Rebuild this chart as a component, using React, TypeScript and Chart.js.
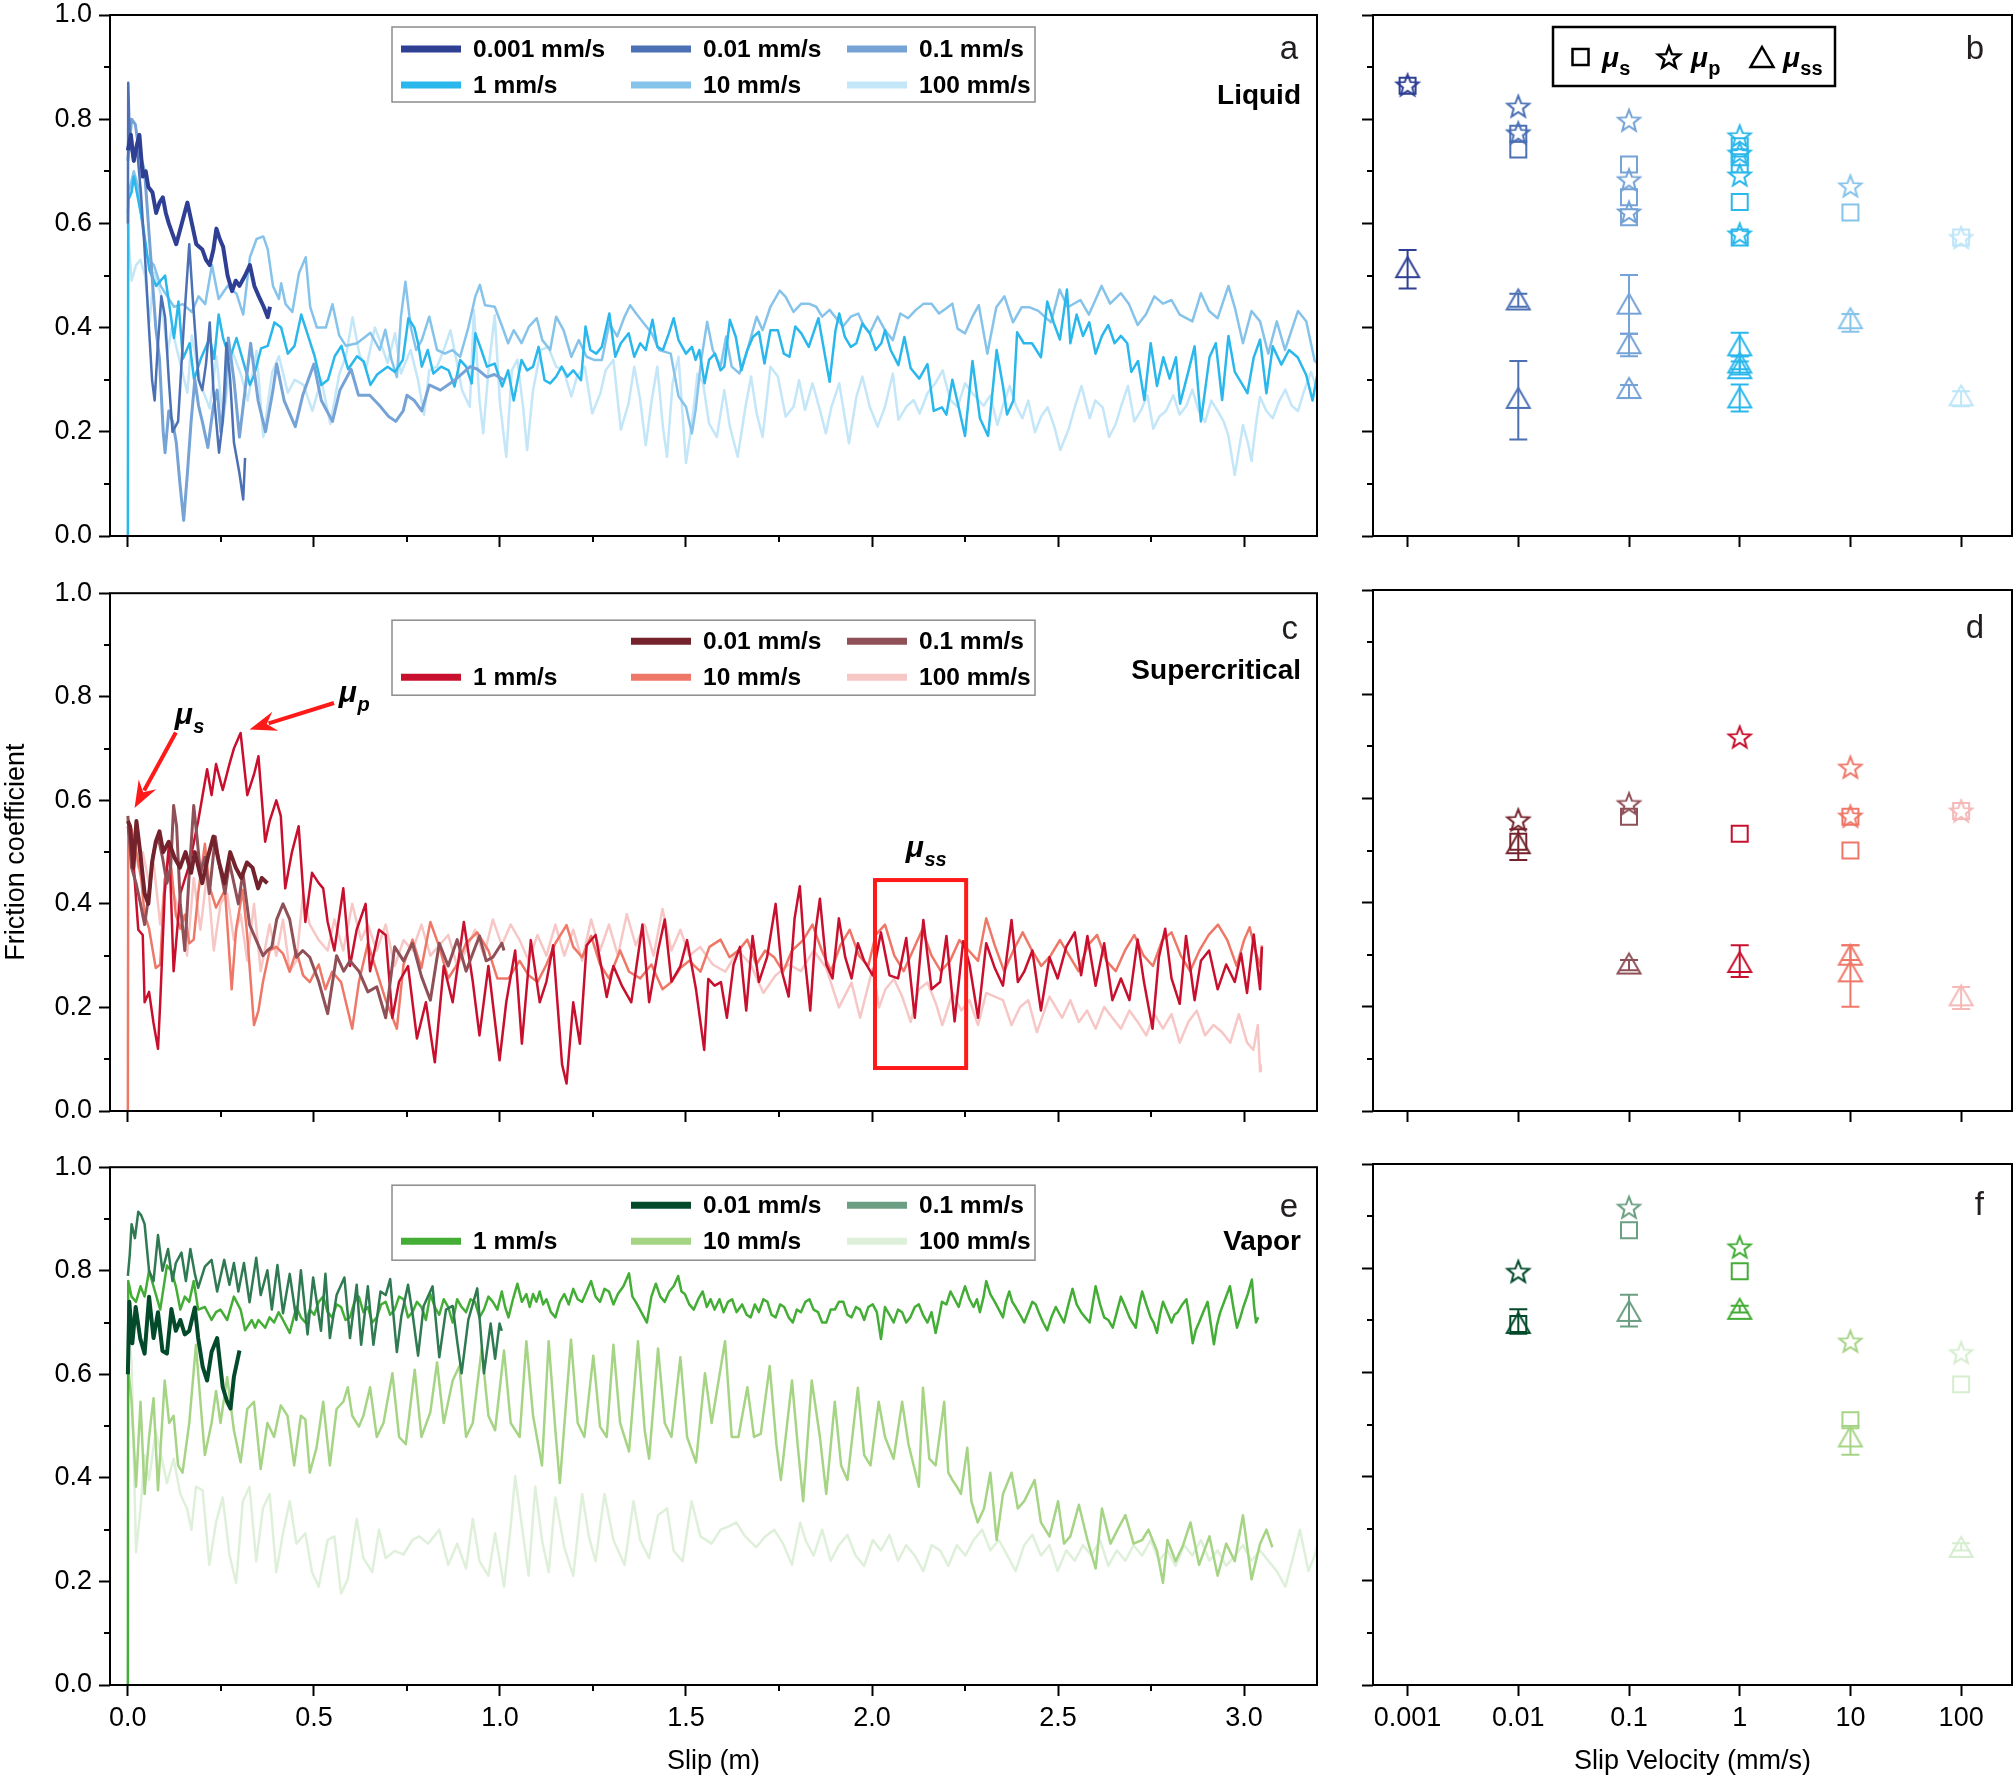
import { useEffect, useRef } from "react"
import { Chart, registerables } from "chart.js"

Chart.register(...registerables)

const FONT = "'Liberation Sans', Arial, Helvetica, sans-serif"
Chart.defaults.font.family = FONT
Chart.defaults.color = "#000"

type Pt = [number, number]

// ---- axes ----
const VELOCITIES = [0.001, 0.01, 0.1, 1, 10, 100]
const VELOCITY_LABELS = ["0.001", "0.01", "0.1", "1", "10", "100"]
const SLIP_TICKS = [0, 0.5, 1, 1.5, 2, 2.5, 3]
const SLIP_MINOR = [0.25, 0.75, 1.25, 1.75, 2.25, 2.75]
const MU_TICKS = [0, 0.2, 0.4, 0.6, 0.8, 1]
const MU_MINOR = [0.1, 0.3, 0.5, 0.7, 0.9]

// ---- panel a: liquid, friction vs slip [slip (m), mu] ----
const liquidV0001: Pt[] = [[0,0.74],[0.008,0.77],[0.016,0.72],[0.024,0.75],[0.031,0.77],[0.04,0.69],[0.048,0.7],[0.055,0.67],[0.066,0.66],[0.076,0.62],[0.085,0.64],[0.094,0.65],[0.102,0.62],[0.11,0.6],[0.12,0.58],[0.13,0.56],[0.145,0.6],[0.16,0.64],[0.172,0.6],[0.184,0.56],[0.2,0.55],[0.21,0.53],[0.22,0.52],[0.23,0.55],[0.238,0.59],[0.247,0.57],[0.256,0.555],[0.268,0.5],[0.28,0.47],[0.29,0.49],[0.3,0.48],[0.315,0.5],[0.328,0.52],[0.34,0.48],[0.352,0.46],[0.365,0.44],[0.376,0.42],[0.382,0.44]]
const liquidV001: Pt[] = [[0,0.6],[0.001,0.87],[0.005,0.76],[0.015,0.72],[0.025,0.74],[0.035,0.66],[0.045,0.55],[0.055,0.42],[0.065,0.3],[0.072,0.26],[0.08,0.36],[0.09,0.46],[0.1,0.42],[0.11,0.3],[0.12,0.2],[0.135,0.22],[0.15,0.4],[0.165,0.56],[0.175,0.45],[0.19,0.3],[0.2,0.28],[0.21,0.33],[0.22,0.41],[0.23,0.28],[0.245,0.16],[0.255,0.22],[0.265,0.37],[0.275,0.3],[0.285,0.18],[0.3,0.12],[0.31,0.07],[0.315,0.15]]
const liquidV01: Pt[] = [[0,0.72],[0.01,0.8],[0.02,0.79],[0.03,0.74],[0.045,0.7],[0.06,0.55],[0.075,0.4],[0.085,0.34],[0.095,0.2],[0.1,0.16],[0.11,0.24],[0.12,0.22],[0.13,0.18],[0.14,0.1],[0.15,0.03],[0.16,0.12],[0.17,0.22],[0.18,0.3],[0.19,0.25],[0.2,0.22],[0.215,0.17],[0.23,0.25],[0.24,0.28],[0.25,0.2],[0.26,0.26],[0.27,0.38],[0.285,0.3],[0.3,0.19],[0.315,0.28],[0.33,0.37],[0.35,0.26],[0.37,0.2],[0.39,0.28],[0.4,0.33],[0.42,0.26],[0.45,0.21],[0.47,0.27],[0.5,0.33],[0.52,0.26],[0.55,0.22],[0.57,0.28],[0.6,0.32],[0.62,0.27],[0.65,0.27],[0.677,0.25],[0.7,0.23],[0.72,0.22],[0.74,0.24],[0.75,0.27],[0.77,0.26],[0.79,0.24],[0.81,0.29],[0.84,0.28],[0.86,0.29],[0.88,0.3],[0.92,0.325],[0.94,0.32],[0.965,0.305],[0.985,0.31],[1.01,0.3]]
const liquidV1: Pt[] = [[0,0],[0.001,0.645],[0.01,0.66],[0.016,0.69],[0.028,0.645],[0.04,0.6],[0.058,0.51],[0.076,0.48],[0.1,0.5],[0.112,0.44],[0.124,0.38],[0.136,0.45],[0.148,0.34],[0.166,0.37],[0.178,0.3],[0.196,0.34],[0.22,0.38],[0.232,0.34],[0.244,0.425],[0.256,0.38],[0.274,0.34],[0.292,0.38],[0.31,0.335],[0.328,0.29],[0.34,0.31],[0.358,0.36],[0.376,0.365],[0.394,0.41],[0.412,0.4],[0.43,0.35],[0.448,0.365],[0.466,0.425],[0.484,0.385],[0.502,0.345],[0.52,0.29],[0.538,0.3],[0.556,0.345],[0.574,0.365],[0.592,0.32],[0.616,0.345],[0.634,0.335],[0.652,0.29],[0.67,0.31],[0.698,0.325],[0.718,0.315],[0.739,0.338],[0.754,0.418],[0.77,0.4],[0.78,0.37],[0.79,0.325],[0.806,0.357],[0.821,0.312],[0.842,0.325],[0.862,0.318],[0.878,0.287],[0.893,0.338],[0.909,0.325],[0.924,0.293],[0.934,0.389],[0.95,0.357],[0.965,0.325],[0.986,0.331],[1.006,0.287],[1.022,0.318],[1.037,0.26],[1.058,0.338],[1.073,0.318],[1.089,0.325],[1.104,0.363],[1.12,0.299],[1.135,0.293],[1.151,0.306],[1.166,0.325],[1.181,0.306],[1.197,0.318],[1.218,0.299],[1.23,0.402],[1.243,0.357],[1.259,0.35],[1.274,0.363],[1.294,0.427],[1.31,0.344],[1.325,0.37],[1.346,0.389],[1.361,0.344],[1.377,0.37],[1.392,0.357],[1.41,0.415],[1.423,0.363],[1.438,0.357],[1.454,0.389],[1.467,0.418],[1.48,0.376],[1.5,0.35],[1.516,0.363],[1.526,0.338],[1.536,0.357],[1.55,0.293],[1.562,0.338],[1.578,0.35],[1.593,0.318],[1.603,0.325],[1.618,0.415],[1.634,0.382],[1.649,0.318],[1.665,0.357],[1.68,0.382],[1.696,0.392],[1.711,0.331],[1.727,0.395],[1.747,0.395],[1.763,0.35],[1.778,0.344],[1.794,0.402],[1.81,0.389],[1.83,0.363],[1.856,0.418],[1.871,0.357],[1.886,0.296],[1.902,0.395],[1.912,0.427],[1.927,0.382],[1.943,0.363],[1.958,0.37],[1.974,0.408],[1.994,0.389],[2.01,0.357],[2.025,0.37],[2.035,0.395],[2.05,0.357],[2.071,0.328],[2.087,0.382],[2.104,0.322],[2.127,0.302],[2.149,0.33],[2.166,0.24],[2.188,0.247],[2.2,0.233],[2.216,0.3],[2.233,0.247],[2.25,0.192],[2.27,0.336],[2.29,0.226],[2.312,0.192],[2.335,0.357],[2.352,0.288],[2.363,0.233],[2.38,0.26],[2.39,0.391],[2.408,0.37],[2.43,0.37],[2.454,0.343],[2.471,0.45],[2.488,0.41],[2.505,0.377],[2.524,0.473],[2.533,0.37],[2.55,0.425],[2.567,0.384],[2.584,0.41],[2.601,0.35],[2.618,0.384],[2.635,0.405],[2.652,0.37],[2.669,0.384],[2.686,0.37],[2.697,0.315],[2.715,0.336],[2.732,0.261],[2.749,0.37],[2.766,0.288],[2.783,0.343],[2.8,0.302],[2.817,0.343],[2.828,0.254],[2.85,0.315],[2.867,0.364],[2.884,0.22],[2.907,0.343],[2.924,0.37],[2.941,0.261],[2.958,0.384],[2.975,0.315],[2.992,0.295],[3.009,0.274],[3.026,0.343],[3.043,0.377],[3.06,0.274],[3.077,0.364],[3.1,0.329],[3.121,0.357],[3.144,0.343],[3.167,0.309],[3.184,0.26],[3.2,0.322]]
const liquidV10: Pt[] = [[0,0.62],[0.004,0.665],[0.016,0.7],[0.028,0.67],[0.04,0.59],[0.052,0.535],[0.07,0.52],[0.088,0.48],[0.106,0.46],[0.124,0.44],[0.148,0.445],[0.172,0.43],[0.19,0.46],[0.208,0.445],[0.226,0.52],[0.244,0.455],[0.268,0.48],[0.292,0.465],[0.31,0.425],[0.328,0.535],[0.346,0.57],[0.364,0.575],[0.376,0.55],[0.39,0.48],[0.406,0.455],[0.412,0.485],[0.424,0.445],[0.442,0.43],[0.46,0.505],[0.478,0.535],[0.49,0.44],[0.508,0.4],[0.532,0.4],[0.55,0.445],[0.568,0.385],[0.586,0.365],[0.616,0.37],[0.652,0.39],[0.677,0.357],[0.692,0.396],[0.708,0.34],[0.723,0.305],[0.734,0.421],[0.746,0.488],[0.76,0.402],[0.775,0.357],[0.79,0.376],[0.81,0.421],[0.831,0.357],[0.852,0.35],[0.872,0.357],[0.893,0.344],[0.915,0.4],[0.934,0.46],[0.946,0.482],[0.96,0.443],[0.986,0.44],[1.006,0.402],[1.022,0.37],[1.037,0.395],[1.058,0.37],[1.078,0.402],[1.099,0.418],[1.114,0.376],[1.135,0.357],[1.151,0.421],[1.171,0.395],[1.192,0.344],[1.212,0.376],[1.233,0.344],[1.253,0.338],[1.274,0.338],[1.294,0.408],[1.315,0.383],[1.335,0.421],[1.35,0.443],[1.366,0.427],[1.387,0.408],[1.408,0.389],[1.428,0.357],[1.459,0.35],[1.48,0.268],[1.5,0.248],[1.516,0.197],[1.526,0.242],[1.541,0.338],[1.557,0.411],[1.572,0.357],[1.593,0.325],[1.608,0.383],[1.623,0.325],[1.644,0.312],[1.665,0.357],[1.69,0.421],[1.706,0.395],[1.727,0.44],[1.752,0.471],[1.768,0.459],[1.789,0.43],[1.81,0.446],[1.83,0.446],[1.85,0.44],[1.866,0.421],[1.886,0.434],[1.907,0.415],[1.922,0.402],[1.943,0.421],[1.963,0.427],[1.979,0.402],[1.994,0.389],[2.015,0.421],[2.035,0.395],[2.056,0.376],[2.076,0.427],[2.097,0.418],[2.118,0.434],[2.139,0.446],[2.16,0.446],[2.18,0.427],[2.2,0.437],[2.216,0.446],[2.23,0.398],[2.25,0.389],[2.27,0.421],[2.287,0.443],[2.31,0.35],[2.334,0.439],[2.356,0.46],[2.379,0.41],[2.402,0.439],[2.424,0.439],[2.447,0.432],[2.481,0.41],[2.504,0.473],[2.526,0.439],[2.56,0.453],[2.583,0.425],[2.617,0.48],[2.64,0.446],[2.669,0.466],[2.69,0.446],[2.714,0.405],[2.736,0.425],[2.759,0.46],[2.782,0.446],[2.805,0.453],[2.827,0.425],[2.861,0.412],[2.884,0.466],[2.906,0.432],[2.929,0.418],[2.958,0.48],[2.975,0.439],[2.997,0.37],[3.02,0.432],[3.043,0.412],[3.065,0.35],[3.088,0.412],[3.11,0.357],[3.145,0.432],[3.167,0.412],[3.19,0.336],[3.2,0.33]]
const liquidV100: Pt[] = [[0,0.6],[0.004,0.55],[0.01,0.49],[0.022,0.52],[0.034,0.53],[0.046,0.5],[0.058,0.41],[0.07,0.505],[0.088,0.465],[0.106,0.35],[0.118,0.4],[0.136,0.345],[0.16,0.275],[0.172,0.385],[0.196,0.29],[0.22,0.245],[0.238,0.345],[0.256,0.22],[0.28,0.355],[0.304,0.31],[0.322,0.26],[0.346,0.355],[0.364,0.19],[0.388,0.315],[0.406,0.345],[0.43,0.275],[0.448,0.3],[0.472,0.29],[0.496,0.24],[0.52,0.3],[0.544,0.215],[0.568,0.31],[0.586,0.345],[0.604,0.42],[0.622,0.35],[0.64,0.32],[0.664,0.4],[0.677,0.376],[0.698,0.332],[0.718,0.389],[0.734,0.312],[0.76,0.357],[0.78,0.299],[0.796,0.232],[0.81,0.318],[0.831,0.325],[0.852,0.363],[0.867,0.395],[0.883,0.338],[0.898,0.28],[0.919,0.248],[0.93,0.434],[0.945,0.261],[0.955,0.197],[0.97,0.325],[0.986,0.424],[1.0,0.255],[1.017,0.152],[1.032,0.318],[1.047,0.338],[1.063,0.242],[1.073,0.165],[1.089,0.28],[1.11,0.357],[1.13,0.363],[1.151,0.325],[1.171,0.318],[1.192,0.268],[1.207,0.306],[1.228,0.325],[1.248,0.235],[1.27,0.274],[1.284,0.318],[1.305,0.338],[1.325,0.204],[1.346,0.255],[1.361,0.325],[1.377,0.261],[1.392,0.174],[1.408,0.261],[1.423,0.325],[1.438,0.21],[1.449,0.152],[1.464,0.293],[1.48,0.344],[1.5,0.14],[1.516,0.216],[1.531,0.312],[1.546,0.293],[1.562,0.216],[1.583,0.19],[1.603,0.28],[1.618,0.21],[1.639,0.152],[1.66,0.248],[1.675,0.306],[1.69,0.235],[1.706,0.19],[1.727,0.325],[1.747,0.306],[1.768,0.229],[1.789,0.248],[1.804,0.299],[1.82,0.242],[1.84,0.293],[1.86,0.242],[1.876,0.197],[1.891,0.248],[1.912,0.293],[1.938,0.178],[1.958,0.267],[1.974,0.306],[1.994,0.248],[2.015,0.21],[2.035,0.248],[2.056,0.312],[2.071,0.223],[2.092,0.248],[2.112,0.261],[2.128,0.235],[2.149,0.274],[2.17,0.293],[2.19,0.318],[2.21,0.261],[2.23,0.248],[2.25,0.293],[2.27,0.274],[2.3,0.25],[2.318,0.27],[2.337,0.213],[2.352,0.25],[2.37,0.288],[2.387,0.25],[2.404,0.226],[2.42,0.26],[2.438,0.199],[2.455,0.23],[2.472,0.247],[2.49,0.21],[2.506,0.165],[2.529,0.206],[2.546,0.25],[2.563,0.288],[2.585,0.226],[2.6,0.26],[2.62,0.247],[2.637,0.19],[2.654,0.213],[2.67,0.25],[2.688,0.288],[2.705,0.22],[2.722,0.24],[2.74,0.27],[2.756,0.206],[2.773,0.23],[2.79,0.24],[2.81,0.27],[2.827,0.233],[2.845,0.25],[2.861,0.281],[2.878,0.24],[2.895,0.219],[2.912,0.26],[2.929,0.24],[2.945,0.22],[2.958,0.192],[2.975,0.117],[2.997,0.213],[3.01,0.18],[3.02,0.144],[3.033,0.22],[3.043,0.267],[3.06,0.24],[3.077,0.226],[3.095,0.26],[3.111,0.281],[3.128,0.25],[3.145,0.24],[3.162,0.28],[3.18,0.315],[3.2,0.274]]

// ---- panel c: supercritical ----
const superV001: Pt[] = [[0,0.56],[0.006,0.55],[0.015,0.47],[0.023,0.56],[0.033,0.5],[0.045,0.42],[0.055,0.4],[0.065,0.48],[0.075,0.52],[0.085,0.54],[0.095,0.5],[0.11,0.52],[0.125,0.49],[0.14,0.47],[0.155,0.5],[0.17,0.46],[0.18,0.5],[0.2,0.44],[0.215,0.49],[0.23,0.53],[0.245,0.48],[0.26,0.44],[0.275,0.5],[0.29,0.47],[0.305,0.45],[0.32,0.48],[0.335,0.47],[0.35,0.43],[0.36,0.45],[0.375,0.44]]
const superV01: Pt[] = [[0,0.57],[0.01,0.47],[0.022,0.44],[0.034,0.4],[0.045,0.36],[0.057,0.42],[0.069,0.5],[0.081,0.53],[0.093,0.49],[0.105,0.44],[0.115,0.47],[0.123,0.59],[0.131,0.55],[0.141,0.4],[0.153,0.31],[0.165,0.46],[0.177,0.59],[0.187,0.52],[0.195,0.46],[0.207,0.49],[0.219,0.42],[0.235,0.53],[0.247,0.47],[0.261,0.42],[0.273,0.48],[0.285,0.44],[0.297,0.4],[0.309,0.46],[0.327,0.36],[0.345,0.33],[0.363,0.3],[0.375,0.31],[0.387,0.317],[0.4,0.37],[0.417,0.4],[0.435,0.37],[0.453,0.297],[0.47,0.31],[0.489,0.297],[0.513,0.25],[0.537,0.188],[0.561,0.3],[0.58,0.27],[0.597,0.29],[0.621,0.27],[0.645,0.23],[0.669,0.24],[0.693,0.18],[0.717,0.317],[0.741,0.29],[0.765,0.324],[0.789,0.26],[0.813,0.214],[0.837,0.324],[0.861,0.28],[0.885,0.331],[0.909,0.27],[0.93,0.31],[0.945,0.338],[0.963,0.29],[0.981,0.297],[1.005,0.324],[1.011,0.31]]
const superV1: Pt[] = [[0,0.55],[0.016,0.47],[0.028,0.35],[0.04,0.34],[0.045,0.21],[0.057,0.23],[0.069,0.17],[0.081,0.12],[0.087,0.21],[0.099,0.42],[0.111,0.52],[0.123,0.27],[0.129,0.32],[0.141,0.42],[0.165,0.475],[0.189,0.56],[0.213,0.66],[0.225,0.61],[0.237,0.67],[0.255,0.62],[0.273,0.67],[0.285,0.7],[0.303,0.73],[0.321,0.61],[0.339,0.65],[0.351,0.685],[0.369,0.52],[0.381,0.56],[0.399,0.6],[0.411,0.57],[0.423,0.43],[0.441,0.5],[0.459,0.55],[0.477,0.365],[0.495,0.46],[0.513,0.44],[0.525,0.43],[0.537,0.365],[0.555,0.31],[0.579,0.43],[0.597,0.28],[0.615,0.35],[0.639,0.4],[0.651,0.27],[0.675,0.35],[0.693,0.34],[0.711,0.18],[0.729,0.25],[0.753,0.28],[0.777,0.14],[0.801,0.21],[0.825,0.094],[0.849,0.28],[0.873,0.21],[0.903,0.365],[0.927,0.25],[0.945,0.146],[0.969,0.28],[0.999,0.098],[1.017,0.21],[1.041,0.31],[1.059,0.13],[1.083,0.33],[1.107,0.21],[1.125,0.25],[1.143,0.32],[1.167,0.09],[1.179,0.053],[1.197,0.21],[1.215,0.13],[1.233,0.32],[1.257,0.34],[1.287,0.22],[1.305,0.28],[1.329,0.24],[1.353,0.21],[1.383,0.36],[1.401,0.21],[1.425,0.31],[1.443,0.37],[1.461,0.25],[1.485,0.28],[1.503,0.33],[1.527,0.235],[1.549,0.118],[1.56,0.255],[1.577,0.242],[1.594,0.249],[1.61,0.18],[1.628,0.283],[1.645,0.317],[1.662,0.194],[1.679,0.338],[1.696,0.249],[1.718,0.297],[1.741,0.4],[1.758,0.269],[1.776,0.221],[1.792,0.372],[1.806,0.434],[1.821,0.283],[1.834,0.194],[1.849,0.352],[1.86,0.41],[1.877,0.283],[1.894,0.256],[1.911,0.372],[1.928,0.297],[1.945,0.256],[1.962,0.324],[1.979,0.29],[2.002,0.262],[2.024,0.345],[2.047,0.262],[2.07,0.256],[2.092,0.334],[2.115,0.18],[2.138,0.369],[2.16,0.235],[2.183,0.249],[2.2,0.338],[2.222,0.173],[2.245,0.328],[2.262,0.283],[2.285,0.18],[2.307,0.324],[2.33,0.276],[2.352,0.242],[2.375,0.369],[2.392,0.249],[2.409,0.269],[2.431,0.31],[2.454,0.194],[2.477,0.297],[2.499,0.256],[2.522,0.317],[2.545,0.345],[2.562,0.262],[2.579,0.338],[2.601,0.242],[2.624,0.324],[2.646,0.214],[2.669,0.256],[2.692,0.214],[2.714,0.331],[2.731,0.249],[2.754,0.159],[2.771,0.297],[2.788,0.352],[2.805,0.256],[2.827,0.207],[2.844,0.338],[2.867,0.214],[2.884,0.29],[2.906,0.31],[2.929,0.235],[2.952,0.283],[2.975,0.249],[2.992,0.304],[3.008,0.228],[3.026,0.341],[3.043,0.235],[3.048,0.317]]
const superV10: Pt[] = [[0,0],[0.001,0.56],[0.01,0.544],[0.022,0.503],[0.036,0.448],[0.045,0.379],[0.057,0.352],[0.075,0.276],[0.087,0.283],[0.099,0.448],[0.117,0.468],[0.129,0.379],[0.141,0.352],[0.153,0.379],[0.165,0.324],[0.177,0.331],[0.189,0.42],[0.207,0.516],[0.219,0.434],[0.237,0.393],[0.261,0.427],[0.279,0.235],[0.291,0.352],[0.309,0.427],[0.321,0.338],[0.339,0.166],[0.351,0.194],[0.363,0.249],[0.381,0.31],[0.399,0.317],[0.417,0.304],[0.435,0.269],[0.453,0.31],[0.471,0.262],[0.489,0.249],[0.513,0.283],[0.531,0.235],[0.549,0.269],[0.573,0.249],[0.603,0.159],[0.621,0.249],[0.645,0.324],[0.669,0.269],[0.693,0.214],[0.723,0.159],[0.741,0.283],[0.765,0.331],[0.789,0.276],[0.813,0.365],[0.837,0.317],[0.861,0.256],[0.885,0.283],[0.909,0.324],[0.939,0.345],[0.969,0.31],[0.993,0.256],[1.023,0.256],[1.053,0.29],[1.077,0.262],[1.101,0.249],[1.125,0.283],[1.149,0.324],[1.179,0.359],[1.197,0.317],[1.221,0.297],[1.245,0.338],[1.269,0.283],[1.293,0.256],[1.323,0.31],[1.347,0.269],[1.377,0.256],[1.407,0.283],[1.437,0.235],[1.461,0.249],[1.485,0.276],[1.509,0.29],[1.539,0.269],[1.563,0.317],[1.593,0.331],[1.617,0.297],[1.641,0.31],[1.665,0.331],[1.689,0.283],[1.713,0.31],[1.737,0.297],[1.761,0.269],[1.785,0.31],[1.815,0.33],[1.84,0.36],[1.865,0.31],[1.89,0.27],[1.915,0.32],[1.94,0.35],[1.965,0.3],[1.99,0.28],[2.01,0.34],[2.035,0.36],[2.06,0.3],[2.085,0.27],[2.11,0.31],[2.135,0.35],[2.16,0.3],[2.185,0.27],[2.21,0.29],[2.235,0.33],[2.26,0.31],[2.285,0.29],[2.307,0.372],[2.33,0.32],[2.355,0.27],[2.38,0.31],[2.405,0.345],[2.43,0.31],[2.455,0.28],[2.48,0.3],[2.505,0.33],[2.53,0.3],[2.555,0.27],[2.58,0.32],[2.605,0.34],[2.63,0.29],[2.655,0.27],[2.68,0.31],[2.705,0.34],[2.73,0.3],[2.755,0.28],[2.78,0.33],[2.805,0.345],[2.83,0.3],[2.855,0.27],[2.88,0.31],[2.905,0.34],[2.93,0.36],[2.955,0.33],[2.98,0.28],[3.0,0.33],[3.015,0.355],[3.03,0.31],[3.043,0.28],[3.048,0.32]]
const superV100: Pt[] = [[0,0.55],[0.016,0.53],[0.028,0.47],[0.04,0.5],[0.057,0.44],[0.069,0.48],[0.087,0.36],[0.105,0.47],[0.123,0.42],[0.141,0.38],[0.159,0.3],[0.177,0.45],[0.195,0.35],[0.213,0.46],[0.231,0.31],[0.249,0.4],[0.267,0.42],[0.285,0.33],[0.303,0.38],[0.321,0.29],[0.339,0.4],[0.357,0.27],[0.381,0.36],[0.399,0.3],[0.417,0.37],[0.435,0.27],[0.453,0.29],[0.471,0.42],[0.489,0.36],[0.513,0.33],[0.537,0.31],[0.555,0.37],[0.579,0.31],[0.603,0.4],[0.627,0.33],[0.645,0.36],[0.669,0.31],[0.693,0.36],[0.717,0.28],[0.741,0.33],[0.765,0.31],[0.789,0.36],[0.813,0.3],[0.837,0.32],[0.861,0.34],[0.885,0.28],[0.909,0.31],[0.933,0.35],[0.957,0.3],[0.981,0.37],[1.005,0.32],[1.029,0.36],[1.053,0.33],[1.077,0.29],[1.101,0.34],[1.125,0.3],[1.149,0.36],[1.173,0.3],[1.197,0.35],[1.221,0.29],[1.245,0.37],[1.269,0.31],[1.293,0.36],[1.317,0.3],[1.341,0.38],[1.365,0.32],[1.389,0.36],[1.413,0.3],[1.437,0.39],[1.461,0.31],[1.485,0.35],[1.509,0.3],[1.538,0.317],[1.572,0.283],[1.606,0.269],[1.64,0.31],[1.674,0.283],[1.708,0.228],[1.741,0.262],[1.776,0.283],[1.809,0.27],[1.843,0.31],[1.877,0.276],[1.911,0.2],[1.945,0.248],[1.968,0.18],[2.002,0.276],[2.019,0.2],[2.036,0.235],[2.059,0.255],[2.081,0.221],[2.104,0.172],[2.126,0.235],[2.149,0.248],[2.172,0.207],[2.189,0.166],[2.217,0.228],[2.24,0.194],[2.262,0.214],[2.285,0.166],[2.307,0.228],[2.33,0.221],[2.352,0.214],[2.375,0.166],[2.398,0.201],[2.42,0.214],[2.443,0.152],[2.477,0.221],[2.511,0.18],[2.533,0.214],[2.556,0.172],[2.578,0.194],[2.601,0.159],[2.624,0.201],[2.646,0.18],[2.669,0.159],[2.692,0.194],[2.714,0.172],[2.737,0.146],[2.759,0.187],[2.782,0.159],[2.805,0.187],[2.827,0.132],[2.85,0.172],[2.873,0.194],[2.895,0.146],[2.918,0.166],[2.941,0.152],[2.963,0.132],[2.986,0.187],[3.008,0.132],[3.025,0.118],[3.037,0.166],[3.043,0.077],[3.045,0.09]]

// ---- panel e: vapor ----
const vaporV001: Pt[] = [[0,0.6],[0.004,0.74],[0.012,0.66],[0.021,0.73],[0.033,0.67],[0.045,0.64],[0.057,0.75],[0.069,0.67],[0.081,0.72],[0.093,0.645],[0.105,0.64],[0.117,0.726],[0.129,0.684],[0.141,0.705],[0.153,0.677],[0.165,0.684],[0.18,0.729],[0.189,0.67],[0.201,0.615],[0.213,0.588],[0.225,0.643],[0.24,0.67],[0.255,0.575],[0.267,0.547],[0.276,0.534],[0.285,0.595],[0.3,0.646]]
const vaporV01: Pt[] = [[0,0.79],[0.005,0.83],[0.01,0.89],[0.019,0.863],[0.028,0.914],[0.036,0.907],[0.045,0.89],[0.057,0.8],[0.069,0.78],[0.081,0.869],[0.093,0.8],[0.108,0.842],[0.12,0.78],[0.129,0.815],[0.144,0.835],[0.156,0.78],[0.168,0.842],[0.18,0.794],[0.189,0.767],[0.207,0.808],[0.225,0.821],[0.24,0.76],[0.259,0.821],[0.273,0.773],[0.285,0.815],[0.297,0.76],[0.312,0.815],[0.327,0.739],[0.345,0.825],[0.357,0.753],[0.375,0.801],[0.387,0.725],[0.402,0.811],[0.417,0.718],[0.435,0.794],[0.453,0.705],[0.465,0.801],[0.483,0.677],[0.498,0.787],[0.519,0.684],[0.531,0.794],[0.543,0.67],[0.561,0.753],[0.582,0.787],[0.597,0.67],[0.615,0.773],[0.627,0.657],[0.645,0.77],[0.66,0.657],[0.679,0.76],[0.693,0.753],[0.705,0.784],[0.723,0.643],[0.735,0.712],[0.753,0.773],[0.765,0.718],[0.78,0.636],[0.795,0.732],[0.819,0.77],[0.837,0.633],[0.855,0.725],[0.873,0.732],[0.885,0.664],[0.897,0.602],[0.915,0.705],[0.939,0.766],[0.957,0.602],[0.975,0.698],[0.987,0.63],[0.999,0.698],[1.005,0.684]]
const vaporV1: Pt[] = [[0,0],[0.001,0.78],[0.01,0.75],[0.022,0.74],[0.034,0.77],[0.045,0.75],[0.057,0.8],[0.069,0.77],[0.087,0.725],[0.105,0.81],[0.117,0.8],[0.129,0.77],[0.141,0.725],[0.153,0.75],[0.165,0.74],[0.177,0.78],[0.189,0.725],[0.207,0.73],[0.225,0.705],[0.237,0.72],[0.249,0.725],[0.267,0.705],[0.285,0.75],[0.303,0.725],[0.315,0.685],[0.333,0.705],[0.342,0.69],[0.351,0.705],[0.369,0.69],[0.381,0.71],[0.393,0.7],[0.405,0.72],[0.417,0.705],[0.435,0.68],[0.453,0.73],[0.465,0.71],[0.477,0.7],[0.489,0.725],[0.501,0.715],[0.513,0.74],[0.525,0.75],[0.537,0.72],[0.549,0.71],[0.561,0.735],[0.573,0.73],[0.585,0.705],[0.597,0.71],[0.609,0.74],[0.621,0.75],[0.633,0.72],[0.645,0.73],[0.657,0.7],[0.669,0.71],[0.681,0.735],[0.693,0.74],[0.705,0.715],[0.717,0.725],[0.729,0.75],[0.741,0.745],[0.753,0.71],[0.765,0.72],[0.777,0.74],[0.789,0.73],[0.801,0.705],[0.813,0.755],[0.825,0.73],[0.837,0.715],[0.849,0.745],[0.861,0.73],[0.873,0.7],[0.885,0.745],[0.897,0.73],[0.909,0.72],[0.921,0.745],[0.933,0.74],[0.945,0.71],[0.957,0.725],[0.969,0.75],[0.981,0.74],[0.993,0.725],[1.005,0.76],[1.014,0.73],[1.023,0.71],[1.035,0.745],[1.047,0.775],[1.059,0.74],[1.071,0.755],[1.08,0.73],[1.089,0.755],[1.098,0.74],[1.107,0.76],[1.116,0.735],[1.125,0.745],[1.137,0.72],[1.149,0.71],[1.161,0.74],[1.173,0.755],[1.185,0.735],[1.197,0.765],[1.209,0.745],[1.221,0.74],[1.233,0.76],[1.245,0.78],[1.257,0.75],[1.269,0.74],[1.281,0.765],[1.293,0.76],[1.305,0.735],[1.317,0.755],[1.332,0.77],[1.347,0.795],[1.356,0.75],[1.365,0.74],[1.38,0.72],[1.395,0.7],[1.407,0.75],[1.419,0.775],[1.431,0.75],[1.443,0.74],[1.455,0.76],[1.467,0.77],[1.479,0.79],[1.488,0.76],[1.497,0.755],[1.509,0.735],[1.521,0.725],[1.533,0.745],[1.545,0.76],[1.556,0.73],[1.566,0.745],[1.577,0.725],[1.59,0.745],[1.601,0.72],[1.613,0.74],[1.624,0.745],[1.636,0.72],[1.651,0.735],[1.663,0.715],[1.674,0.71],[1.685,0.735],[1.696,0.72],[1.708,0.745],[1.719,0.74],[1.73,0.715],[1.741,0.71],[1.753,0.735],[1.764,0.73],[1.776,0.71],[1.787,0.7],[1.798,0.725],[1.809,0.72],[1.821,0.74],[1.832,0.745],[1.843,0.725],[1.855,0.72],[1.866,0.7],[1.877,0.7],[1.889,0.725],[1.9,0.725],[1.911,0.74],[1.923,0.74],[1.934,0.715],[1.945,0.71],[1.957,0.73],[1.968,0.725],[1.979,0.705],[1.99,0.73],[2.002,0.735],[2.013,0.72],[2.024,0.668],[2.035,0.73],[2.047,0.715],[2.058,0.7],[2.07,0.725],[2.081,0.72],[2.092,0.7],[2.103,0.71],[2.115,0.73],[2.126,0.735],[2.137,0.715],[2.149,0.7],[2.16,0.72],[2.171,0.68],[2.18,0.71],[2.188,0.74],[2.2,0.735],[2.211,0.76],[2.222,0.745],[2.233,0.73],[2.241,0.75],[2.25,0.77],[2.262,0.745],[2.273,0.73],[2.282,0.745],[2.29,0.72],[2.3,0.75],[2.307,0.78],[2.318,0.755],[2.33,0.74],[2.341,0.725],[2.352,0.71],[2.36,0.74],[2.369,0.76],[2.377,0.74],[2.386,0.73],[2.398,0.715],[2.409,0.7],[2.42,0.72],[2.431,0.74],[2.44,0.735],[2.448,0.72],[2.46,0.7],[2.471,0.685],[2.482,0.71],[2.494,0.73],[2.505,0.715],[2.516,0.7],[2.528,0.735],[2.539,0.765],[2.55,0.735],[2.562,0.72],[2.573,0.71],[2.585,0.7],[2.593,0.735],[2.601,0.77],[2.613,0.735],[2.624,0.71],[2.635,0.705],[2.647,0.69],[2.658,0.72],[2.669,0.75],[2.681,0.73],[2.692,0.71],[2.7,0.7],[2.709,0.69],[2.717,0.73],[2.726,0.76],[2.737,0.735],[2.749,0.71],[2.757,0.7],[2.766,0.68],[2.774,0.715],[2.782,0.74],[2.794,0.72],[2.805,0.7],[2.813,0.715],[2.822,0.72],[2.834,0.735],[2.845,0.745],[2.853,0.71],[2.862,0.66],[2.87,0.685],[2.879,0.7],[2.89,0.72],[2.902,0.74],[2.91,0.7],[2.919,0.658],[2.927,0.695],[2.936,0.72],[2.949,0.745],[2.962,0.77],[2.971,0.73],[2.981,0.69],[2.99,0.71],[2.998,0.73],[3.01,0.755],[3.021,0.783],[3.027,0.73],[3.032,0.7],[3.038,0.71]]
const vaporV10: Pt[] = [[0,0.62],[0.01,0.547],[0.022,0.383],[0.034,0.547],[0.045,0.369],[0.057,0.479],[0.069,0.554],[0.081,0.376],[0.099,0.588],[0.111,0.506],[0.123,0.52],[0.135,0.424],[0.147,0.41],[0.165,0.506],[0.183,0.657],[0.195,0.547],[0.207,0.444],[0.225,0.506],[0.237,0.568],[0.249,0.506],[0.267,0.595],[0.285,0.492],[0.303,0.43],[0.321,0.533],[0.339,0.547],[0.357,0.417],[0.375,0.506],[0.393,0.479],[0.411,0.54],[0.429,0.52],[0.447,0.424],[0.465,0.52],[0.477,0.513],[0.489,0.41],[0.507,0.458],[0.525,0.547],[0.543,0.424],[0.561,0.533],[0.579,0.547],[0.591,0.575],[0.603,0.52],[0.621,0.499],[0.633,0.52],[0.651,0.575],[0.669,0.479],[0.687,0.506],[0.711,0.602],[0.729,0.479],[0.747,0.465],[0.771,0.609],[0.789,0.479],[0.813,0.527],[0.831,0.623],[0.849,0.506],[0.873,0.588],[0.891,0.616],[0.909,0.479],[0.927,0.506],[0.951,0.65],[0.969,0.52],[0.987,0.492],[1.011,0.646],[1.029,0.506],[1.053,0.479],[1.071,0.664],[1.089,0.52],[1.113,0.424],[1.131,0.664],[1.149,0.492],[1.161,0.39],[1.191,0.667],[1.209,0.506],[1.227,0.479],[1.251,0.636],[1.269,0.499],[1.287,0.479],[1.305,0.657],[1.323,0.506],[1.347,0.451],[1.371,0.664],[1.389,0.492],[1.401,0.437],[1.425,0.65],[1.443,0.506],[1.461,0.479],[1.485,0.633],[1.503,0.479],[1.527,0.43],[1.551,0.602],[1.569,0.506],[1.605,0.664],[1.623,0.479],[1.641,0.479],[1.665,0.575],[1.683,0.479],[1.701,0.485],[1.725,0.616],[1.743,0.465],[1.755,0.396],[1.785,0.588],[1.8,0.465],[1.815,0.355],[1.838,0.588],[1.86,0.479],[1.877,0.369],[1.9,0.547],[1.917,0.424],[1.934,0.396],[1.962,0.574],[1.979,0.444],[1.996,0.424],[2.018,0.547],[2.035,0.479],[2.058,0.437],[2.081,0.547],[2.098,0.465],[2.126,0.383],[2.137,0.574],[2.154,0.437],[2.171,0.424],[2.194,0.547],[2.205,0.41],[2.216,0.396],[2.228,0.383],[2.239,0.369],[2.256,0.458],[2.267,0.355],[2.284,0.314],[2.301,0.341],[2.318,0.41],[2.335,0.28],[2.352,0.369],[2.375,0.41],[2.392,0.341],[2.409,0.355],[2.437,0.396],[2.454,0.314],[2.477,0.287],[2.5,0.355],[2.516,0.273],[2.533,0.287],[2.556,0.348],[2.579,0.28],[2.601,0.225],[2.618,0.341],[2.641,0.273],[2.66,0.3],[2.681,0.328],[2.703,0.273],[2.726,0.28],[2.743,0.3],[2.766,0.259],[2.782,0.197],[2.794,0.28],[2.816,0.239],[2.836,0.27],[2.856,0.314],[2.879,0.232],[2.907,0.287],[2.929,0.211],[2.952,0.273],[2.975,0.239],[2.997,0.328],[3.02,0.204],[3.043,0.273],[3.06,0.3],[3.076,0.266]]
const vaporV100: Pt[] = [[0,0.7],[0.01,0.622],[0.022,0.256],[0.034,0.341],[0.045,0.444],[0.057,0.396],[0.075,0.49],[0.093,0.431],[0.105,0.39],[0.123,0.437],[0.141,0.369],[0.159,0.341],[0.171,0.3],[0.183,0.383],[0.201,0.376],[0.219,0.232],[0.237,0.314],[0.255,0.362],[0.273,0.252],[0.291,0.197],[0.309,0.355],[0.327,0.383],[0.345,0.239],[0.363,0.341],[0.381,0.369],[0.399,0.218],[0.417,0.293],[0.435,0.355],[0.453,0.273],[0.477,0.293],[0.495,0.218],[0.513,0.19],[0.537,0.28],[0.555,0.287],[0.573,0.177],[0.591,0.204],[0.615,0.321],[0.633,0.245],[0.657,0.218],[0.675,0.3],[0.693,0.245],[0.717,0.259],[0.741,0.252],[0.765,0.28],[0.783,0.287],[0.807,0.273],[0.837,0.3],[0.861,0.232],[0.885,0.273],[0.909,0.225],[0.927,0.321],[0.945,0.239],[0.969,0.211],[0.987,0.293],[1.011,0.19],[1.029,0.307],[1.041,0.403],[1.059,0.307],[1.077,0.211],[1.095,0.383],[1.113,0.28],[1.131,0.218],[1.149,0.362],[1.173,0.266],[1.197,0.211],[1.221,0.369],[1.239,0.287],[1.257,0.239],[1.281,0.369],[1.305,0.28],[1.335,0.232],[1.359,0.355],[1.377,0.28],[1.401,0.245],[1.425,0.328],[1.449,0.341],[1.467,0.259],[1.491,0.239],[1.515,0.355],[1.539,0.287],[1.569,0.273],[1.593,0.3],[1.617,0.307],[1.635,0.314],[1.659,0.287],[1.689,0.266],[1.713,0.287],[1.737,0.3],[1.761,0.273],[1.785,0.232],[1.807,0.314],[1.821,0.28],[1.843,0.25],[1.866,0.3],[1.889,0.24],[1.911,0.27],[1.934,0.29],[1.956,0.25],[1.979,0.23],[2.002,0.28],[2.024,0.26],[2.047,0.29],[2.07,0.24],[2.092,0.27],[2.115,0.25],[2.138,0.22],[2.16,0.27],[2.183,0.26],[2.205,0.23],[2.228,0.27],[2.251,0.25],[2.273,0.28],[2.296,0.3],[2.318,0.26],[2.341,0.28],[2.364,0.25],[2.386,0.22],[2.409,0.27],[2.431,0.29],[2.454,0.25],[2.477,0.27],[2.499,0.22],[2.522,0.26],[2.545,0.24],[2.567,0.27],[2.59,0.25],[2.613,0.28],[2.635,0.23],[2.658,0.26],[2.681,0.24],[2.703,0.27],[2.726,0.25],[2.749,0.28],[2.771,0.24],[2.794,0.26],[2.816,0.23],[2.839,0.27],[2.861,0.25],[2.884,0.28],[2.907,0.24],[2.929,0.26],[2.952,0.23],[2.975,0.25],[2.997,0.27],[3.02,0.24],[3.043,0.26],[3.065,0.24],[3.088,0.22],[3.111,0.19],[3.133,0.25],[3.15,0.3],[3.173,0.22],[3.19,0.25],[3.2,0.28]]

// ---- panels b, d, f: characteristic friction vs slip velocity (mm/s) ----
const liquidMuSVel = [0.001, 0.01, 0.01, 0.1, 0.1, 0.1, 1, 1, 1, 1, 1, 10, 100]
const liquidMuS = [0.864, 0.772, 0.742, 0.713, 0.65, 0.612, 0.748, 0.727, 0.713, 0.641, 0.573, 0.621, 0.573]
const liquidMuPVel = [0.001, 0.01, 0.01, 0.1, 0.1, 0.1, 1, 1, 1, 1, 10, 100]
const liquidMuP = [0.866, 0.825, 0.774, 0.798, 0.684, 0.622, 0.768, 0.735, 0.693, 0.58, 0.672, 0.573]
const liquidMuSSVel = [0.001, 0.01, 0.01, 0.1, 0.1, 0.1, 1, 1, 1, 1, 10, 100]
const liquidMuSS = [0.516, 0.454, 0.265, 0.446, 0.37, 0.284, 0.366, 0.333, 0.322, 0.266, 0.418, 0.27]
const liquidMuSSLow = [0.475, 0.44, 0.185, 0.388, 0.345, 0.265, 0.345, 0.32, 0.31, 0.239, 0.392, 0.249]
const liquidMuSSHigh = [0.549, 0.465, 0.336, 0.501, 0.388, 0.29, 0.39, 0.345, 0.335, 0.291, 0.426, 0.278]

const superVel = [0.01, 0.1, 1, 10, 10, 100]
const superMuS = [0.517, 0.565, 0.532, 0.565, 0.5, 0.576]
const superMuP = [0.559, 0.59, 0.718, 0.66, 0.566, 0.576]
const superMuSS = [0.514, 0.283, 0.286, 0.3, 0.268, 0.222]
const superMuSSLow = [0.482, 0.27, 0.257, 0.29, 0.2, 0.196]
const superMuSSHigh = [0.541, 0.29, 0.318, 0.318, 0.318, 0.238]

const vaporVel = [0.01, 0.1, 1, 10, 100]
const vaporMuS = [0.693, 0.873, 0.794, 0.508, 0.577]
const vaporMuP = [0.794, 0.917, 0.841, 0.66, 0.638]
const vaporMuSS = [0.695, 0.718, 0.722, 0.477, 0.265]
const vaporMuSSLow = [0.674, 0.688, 0.715, 0.442, 0.258]
const vaporMuSSHigh = [0.721, 0.749, 0.728, 0.497, 0.272]

// ---- styles ----
// colours per velocity, in VELOCITIES order
const LIQUID_COLORS = ["#2e3f94", "#4b70b4", "#76a3d6", "#2ab7ec", "#86c3ea", "#bde6f8"]
const SUPER_COLORS = ["#74232c", "#74232c", "#8f5058", "#c8102e", "#ef7767", "#f4b9b8"]
const VAPOR_COLORS = ["#024a2a", "#024a2a", "#6b9e82", "#43ad36", "#a6d485", "#d6edcf"]

interface Series { label: string; data: Pt[]; color: string; swatch?: string; width: number; row: number; col: number }

const liquidSeries: Series[] = [
  { label: "0.001 mm/s", data: liquidV0001, color: "#2e3f94", width: 4, row: 0, col: 0 },
  { label: "0.01 mm/s", data: liquidV001, color: "#4b70b4", width: 2.5, row: 0, col: 1 },
  { label: "0.1 mm/s", data: liquidV01, color: "#76a3d6", width: 3, row: 0, col: 2 },
  { label: "1 mm/s", data: liquidV1, color: "#2ab7ec", width: 2.5, row: 1, col: 0 },
  { label: "10 mm/s", data: liquidV10, color: "#86c3ea", width: 2.5, row: 1, col: 1 },
  { label: "100 mm/s", data: liquidV100, color: "#c3e6f8", width: 2.5, row: 1, col: 2 },
]
const superSeries: Series[] = [
  { label: "0.01 mm/s", data: superV001, color: "#74232c", width: 4, row: 0, col: 1 },
  { label: "0.1 mm/s", data: superV01, color: "#8f5058", width: 3, row: 0, col: 2 },
  { label: "1 mm/s", data: superV1, color: "#c8102e", width: 2.5, row: 1, col: 0 },
  { label: "10 mm/s", data: superV10, color: "#ef7767", width: 2.5, row: 1, col: 1 },
  { label: "100 mm/s", data: superV100, color: "#f7c7c6", width: 2.5, row: 1, col: 2 },
]
const vaporSeries: Series[] = [
  { label: "0.01 mm/s", data: vaporV001, color: "#024a2a", width: 4, row: 0, col: 1 },
  { label: "0.1 mm/s", data: vaporV01, color: "#2f7a52", swatch: "#6b9e82", width: 2.5, row: 0, col: 2 },
  { label: "1 mm/s", data: vaporV1, color: "#43ad36", width: 2.5, row: 1, col: 0 },
  { label: "10 mm/s", data: vaporV10, color: "#a6d485", width: 2.5, row: 1, col: 1 },
  { label: "100 mm/s", data: vaporV100, color: "#dff0da", width: 2.5, row: 1, col: 2 },
]

// ---- layout (page pixels) ----
const LEFT_BOX = { left: 0, width: 1330, yAxis: 110, padRight: 13 }
const RIGHT_BOX = { left: 1340, width: 675, yAxis: 33, padRight: 3 }
const ROWS = [
  { top: -10, height: 576, padTop: 25, xAxis: 30 },
  { top: 570, height: 571, padTop: 20, xAxis: 30 },
  { top: 1144, height: 639, padTop: 20, xAxis: 98 },
]

// ---- drawing helpers ----
const markerCache = new Map<string, HTMLCanvasElement>()
function markerImage(kind: "star" | "tri", color: string, lw = 2): HTMLCanvasElement {
  const key = `${kind}|${color}|${lw}`
  const hit = markerCache.get(key)
  if (hit) return hit
  const c = document.createElement("canvas")
  c.width = 32
  c.height = 32
  const g = c.getContext("2d")!
  g.strokeStyle = color
  g.lineWidth = lw
  g.lineJoin = "miter"
  g.beginPath()
  if (kind === "star") {
    const R = 11.5, r = 4.9, cy = 16 + 0.0955 * R
    for (let k = 0; k < 10; k++) {
      const a = -Math.PI / 2 + (k * Math.PI) / 5
      const rad = k % 2 === 0 ? R : r
      const x = 16 + rad * Math.cos(a), y = cy + rad * Math.sin(a)
      if (k === 0) g.moveTo(x, y)
      else g.lineTo(x, y)
    }
  } else {
    g.moveTo(16, 6)
    g.lineTo(27.5, 26)
    g.lineTo(4.5, 26)
  }
  g.closePath()
  g.stroke()
  markerCache.set(key, c)
  return c
}

function colorFor(palette: string[], v: number) {
  return palette[VELOCITIES.indexOf(v)]
}

function drawFrame(chart: any, xMinor: number[]) {
  const { ctx, chartArea: a, scales } = chart
  ctx.save()
  ctx.strokeStyle = "#000"
  ctx.lineWidth = 2
  ctx.strokeRect(a.left, a.top, a.right - a.left, a.bottom - a.top)
  ctx.beginPath()
  for (const v of MU_MINOR) {
    const y = Math.round(scales.y.getPixelForValue(v))
    ctx.moveTo(a.left - 6, y)
    ctx.lineTo(a.left, y)
  }
  for (const v of xMinor) {
    const x = Math.round(scales.x.getPixelForValue(v))
    ctx.moveTo(x, a.bottom)
    ctx.lineTo(x, a.bottom + 6)
  }
  ctx.stroke()
  ctx.restore()
}

function drawMu(ctx: CanvasRenderingContext2D, x: number, y: number, sub: string, size: number, subSize: number, italicSub: boolean, color: string) {
  ctx.fillStyle = color
  ctx.textAlign = "left"
  ctx.textBaseline = "alphabetic"
  ctx.font = `italic bold ${size}px ${FONT}`
  ctx.fillText("μ", x, y)
  ctx.font = `${italicSub ? "italic " : ""}bold ${subSize}px ${FONT}`
  ctx.fillText(sub, x + size * 0.62, y + size * 0.3)
}

function drawArrow(ctx: CanvasRenderingContext2D, x1: number, y1: number, x2: number, y2: number) {
  const ang = Math.atan2(y2 - y1, x2 - x1)
  const head = 24, half = 10
  const bx = x2 - head * Math.cos(ang), by = y2 - head * Math.sin(ang)
  ctx.beginPath()
  ctx.moveTo(x1, y1)
  ctx.lineTo(bx + 4 * Math.cos(ang), by + 4 * Math.sin(ang))
  ctx.stroke()
  ctx.beginPath()
  ctx.moveTo(x2, y2)
  ctx.lineTo(bx + half * Math.sin(ang) - 3 * Math.cos(ang), by - half * Math.cos(ang) - 3 * Math.sin(ang))
  ctx.lineTo(bx + 6 * Math.cos(ang), by + 6 * Math.sin(ang))
  ctx.lineTo(bx - half * Math.sin(ang) - 3 * Math.cos(ang), by + half * Math.cos(ang) - 3 * Math.sin(ang))
  ctx.closePath()
  ctx.fill()
}

interface SlipDecor { boxTop: number; rowY: [number, number]; letter: string; letterY: number; state: string; stateY: number; notes?: boolean }

function drawSlipLegend(chart: any, series: Series[], d: SlipDecor) {
  const { ctx, chartArea: a } = chart
  ctx.save()
  ctx.strokeStyle = "#8c8c8c"
  ctx.lineWidth = 1.5
  ctx.strokeRect(a.left + 282, a.top + d.boxTop, 643, 75)
  const cols = [291, 521, 737]
  ctx.font = `bold 24.5px ${FONT}`
  ctx.textAlign = "left"
  ctx.textBaseline = "middle"
  for (const s of series) {
    const x = a.left + cols[s.col], y = a.top + d.rowY[s.row]
    ctx.strokeStyle = s.swatch ?? s.color
    ctx.lineWidth = 7
    ctx.lineCap = "butt"
    ctx.beginPath()
    ctx.moveTo(x, y)
    ctx.lineTo(x + 60, y)
    ctx.stroke()
    ctx.fillStyle = "#000"
    ctx.fillText(s.label, x + 72, y + 1)
  }
  ctx.textAlign = "right"
  ctx.textBaseline = "alphabetic"
  ctx.fillStyle = "#231f20"
  ctx.font = `33px ${FONT}`
  ctx.fillText(d.letter, a.right - 19, a.top + d.letterY)
  ctx.fillStyle = "#000"
  ctx.font = `bold 28px ${FONT}`
  ctx.fillText(d.state, a.right - 16, a.top + d.stateY)
  ctx.restore()
}

function drawSuperNotes(chart: any) {
  const { ctx, scales } = chart
  const px = (x: number) => scales.x.getPixelForValue(x)
  const py = (y: number) => scales.y.getPixelForValue(y)
  ctx.save()
  ctx.strokeStyle = "#ff1a1a"
  ctx.fillStyle = "#ff1a1a"
  ctx.lineWidth = 4
  ctx.lineCap = "butt"
  drawArrow(ctx, px(0.129), py(0.731), px(0.018), py(0.585))
  drawArrow(ctx, px(0.554), py(0.788), px(0.327), py(0.737))
  ctx.strokeRect(px(2.008), py(0.446), px(2.253) - px(2.008), py(0.083) - py(0.446))
  drawMu(ctx, px(0.126), py(0.748), "s", 30, 20, true, "#000")
  drawMu(ctx, px(0.567), py(0.79), "p", 30, 20, true, "#000")
  drawMu(ctx, px(2.091), py(0.49), "ss", 30, 20, true, "#000")
  ctx.restore()
}

function slipConfig(series: Series[], row: number, decor: SlipDecor, bottom: boolean, yTitle: boolean) {
  const r = ROWS[row]
  return {
    type: "line",
    data: {
      datasets: series.map((s) => ({
        label: s.label,
        data: s.data.map(([x, y]) => ({ x, y })),
        borderColor: s.color,
        borderWidth: s.width,
        borderJoinStyle: "round",
        pointRadius: 0,
        tension: 0,
        fill: false,
      })),
    },
    options: {
      animation: false,
      responsive: true,
      maintainAspectRatio: false,
      events: [],
      layout: { autoPadding: false, padding: { top: r.padTop, right: LEFT_BOX.padRight, left: 0, bottom: 0 } },
      plugins: { legend: { display: false }, tooltip: { enabled: false } },
      scales: {
        x: {
          type: "linear",
          min: -0.048,
          max: 3.196,
          afterBuildTicks: (s: any) => { s.ticks = SLIP_TICKS.map((value) => ({ value })) },
          afterFit: (s: any) => { s.height = r.xAxis },
          border: { display: false },
          grid: { drawOnChartArea: false, tickLength: 11, tickWidth: 2, tickColor: "#000" },
          ticks: { display: bottom, autoSkip: false, maxRotation: 0, padding: 6, font: { size: 27 }, color: "#000", callback: (v: any) => Number(v).toFixed(1) },
          title: { display: bottom, text: "Slip (m)", font: { size: 27 }, color: "#000", padding: { top: 0, bottom: 5 } },
        },
        y: {
          type: "linear",
          min: 0,
          max: 1,
          afterBuildTicks: (s: any) => { s.ticks = MU_TICKS.map((value) => ({ value })) },
          afterFit: (s: any) => { s.width = LEFT_BOX.yAxis },
          border: { display: false },
          grid: { drawOnChartArea: false, tickLength: 11, tickWidth: 2, tickColor: "#000" },
          ticks: { autoSkip: false, padding: 7, font: { size: 27 }, color: "#000", callback: (v: any) => Number(v).toFixed(1) },
          title: { display: yTitle, text: "Friction coefficient", font: { size: 27 }, color: "#000", padding: { top: 0, bottom: 0 } },
        },
      },
    },
    plugins: [
      {
        id: "slipDecor",
        afterDatasetsDraw(chart: any) {
          drawFrame(chart, SLIP_MINOR)
          drawSlipLegend(chart, series, decor)
          if (decor.notes) drawSuperNotes(chart)
        },
      },
    ],
  }
}

interface MuSet { sVel: number[]; s: number[]; pVel: number[]; p: number[]; ssVel: number[]; ss: number[]; ssLow: number[]; ssHigh: number[] }

function drawMuLegend(chart: any) {
  const { ctx, chartArea: a } = chart
  ctx.save()
  ctx.strokeStyle = "#000"
  ctx.lineWidth = 2.5
  ctx.strokeRect(a.left + 180, a.top + 12, 282, 59)
  const cy = a.top + 42
  ctx.lineWidth = 2.5
  ctx.strokeRect(a.left + 199.5, cy - 8, 16, 16)
  ctx.drawImage(markerImage("star", "#000", 2.5), a.left + 296 - 16, cy - 16)
  ctx.drawImage(markerImage("tri", "#000", 2.5), a.left + 389 - 16, cy - 16)
  drawMu(ctx, a.left + 229, a.top + 52, "s", 28, 20, false, "#000")
  drawMu(ctx, a.left + 318, a.top + 52, "p", 28, 20, false, "#000")
  drawMu(ctx, a.left + 410, a.top + 52, "ss", 28, 20, false, "#000")
  ctx.restore()
}

function velocityConfig(set: MuSet, palette: string[], row: number, letter: string, letterY: number, bottom: boolean, legend: boolean) {
  const r = ROWS[row]
  const pts = (vel: number[], vals: number[]) => vel.map((x, i) => ({ x, y: vals[i] }))
  return {
    type: "scatter",
    data: {
      datasets: [
        {
          label: "μp",
          data: pts(set.pVel, set.p),
          pointStyle: set.pVel.map((v) => markerImage("star", colorFor(palette, v))),
          pointRadius: 12,
        },
        {
          label: "μs",
          data: pts(set.sVel, set.s),
          pointStyle: "rect",
          pointRadius: 11.3,
          pointBorderWidth: 2,
          pointBorderColor: set.sVel.map((v) => colorFor(palette, v)),
          pointBackgroundColor: "rgba(0,0,0,0)",
        },
        {
          label: "μss",
          data: pts(set.ssVel, set.ss),
          pointStyle: set.ssVel.map((v) => markerImage("tri", colorFor(palette, v))),
          pointRadius: 12,
        },
      ],
    },
    options: {
      animation: false,
      responsive: true,
      maintainAspectRatio: false,
      events: [],
      layout: { autoPadding: false, padding: { top: r.padTop, right: RIGHT_BOX.padRight, left: 0, bottom: 0 } },
      plugins: { legend: { display: false }, tooltip: { enabled: false } },
      scales: {
        x: {
          type: "logarithmic",
          min: 0.000487,
          max: 288,
          afterBuildTicks: (s: any) => { s.ticks = VELOCITIES.map((value) => ({ value })) },
          afterFit: (s: any) => { s.height = r.xAxis },
          border: { display: false },
          grid: { drawOnChartArea: false, tickLength: 11, tickWidth: 2, tickColor: "#000" },
          ticks: { display: bottom, autoSkip: false, maxRotation: 0, padding: 6, font: { size: 27 }, color: "#000", callback: (_v: any, i: number) => VELOCITY_LABELS[i] },
          title: { display: bottom, text: "Slip Velocity (mm/s)", font: { size: 27 }, color: "#000", padding: { top: 0, bottom: 5 } },
        },
        y: {
          type: "linear",
          min: 0,
          max: 1,
          afterBuildTicks: (s: any) => { s.ticks = MU_TICKS.map((value) => ({ value })) },
          afterFit: (s: any) => { s.width = RIGHT_BOX.yAxis },
          border: { display: false },
          grid: { drawOnChartArea: false, tickLength: 11, tickWidth: 2, tickColor: "#000" },
          ticks: { display: false },
        },
      },
    },
    plugins: [
      {
        id: "errorBars",
        beforeDatasetsDraw(chart: any) {
          const { ctx, scales } = chart
          ctx.save()
          ctx.lineWidth = 2
          set.ssVel.forEach((v, i) => {
            const x = scales.x.getPixelForValue(v)
            const y1 = scales.y.getPixelForValue(set.ssLow[i])
            const y2 = scales.y.getPixelForValue(set.ssHigh[i])
            ctx.strokeStyle = colorFor(palette, v)
            ctx.beginPath()
            ctx.moveTo(x, y1)
            ctx.lineTo(x, y2)
            ctx.moveTo(x - 9, y1)
            ctx.lineTo(x + 9, y1)
            ctx.moveTo(x - 9, y2)
            ctx.lineTo(x + 9, y2)
            ctx.stroke()
          })
          ctx.restore()
        },
        afterDatasetsDraw(chart: any) {
          drawFrame(chart, [])
          const { ctx, chartArea: a } = chart
          ctx.save()
          ctx.fillStyle = "#231f20"
          ctx.font = `33px ${FONT}`
          ctx.textAlign = "right"
          ctx.textBaseline = "alphabetic"
          ctx.fillText(letter, a.right - 28, a.top + letterY)
          ctx.restore()
          if (legend) drawMuLegend(chart)
        },
      },
    ],
  }
}

// ---- chart makers ----
const liquidSet: MuSet = { sVel: liquidMuSVel, s: liquidMuS, pVel: liquidMuPVel, p: liquidMuP, ssVel: liquidMuSSVel, ss: liquidMuSS, ssLow: liquidMuSSLow, ssHigh: liquidMuSSHigh }
const superSet: MuSet = { sVel: superVel, s: superMuS, pVel: superVel, p: superMuP, ssVel: superVel, ss: superMuSS, ssLow: superMuSSLow, ssHigh: superMuSSHigh }
const vaporSet: MuSet = { sVel: vaporVel, s: vaporMuS, pVel: vaporVel, p: vaporMuP, ssVel: vaporVel, ss: vaporMuSS, ssLow: vaporMuSSLow, ssHigh: vaporMuSSHigh }

const makeA = () => slipConfig(liquidSeries, 0, { boxTop: 12, rowY: [34, 70], letter: "a", letterY: 44, state: "Liquid", stateY: 89 }, false, false)
const makeC = () => slipConfig(superSeries, 1, { boxTop: 27, rowY: [48, 84], letter: "c", letterY: 46, state: "Supercritical", stateY: 86, notes: true }, false, true)
const makeE = () => slipConfig(vaporSeries, 2, { boxTop: 18, rowY: [38, 74], letter: "e", letterY: 50, state: "Vapor", stateY: 83 }, true, false)
const makeB = () => velocityConfig(liquidSet, LIQUID_COLORS, 0, "b", 44, false, true)
const makeD = () => velocityConfig(superSet, SUPER_COLORS, 1, "d", 48, false, false)
const makeF = () => velocityConfig(vaporSet, VAPOR_COLORS, 2, "f", 51, true, false)

function ChartBox({ left, width, row, make }: { left: number; width: number; row: number; make: () => any }) {
  const canvasRef = useRef<HTMLCanvasElement>(null)
  const chartRef = useRef<Chart | null>(null)

  useEffect(() => {
    if (!canvasRef.current) return
    if (chartRef.current) chartRef.current.destroy()
    chartRef.current = new Chart(canvasRef.current, make())
    return () => {
      if (chartRef.current) {
        chartRef.current.destroy()
        chartRef.current = null
      }
    }
  }, [make])

  const r = ROWS[row]
  return (
    <div style={{ position: "absolute", left, top: r.top, width, height: r.height }}>
      <canvas ref={canvasRef} />
    </div>
  )
}

export default function App() {
  return (
    <div style={{ position: "absolute", left: 0, top: 0, width: 2015, height: 1783, background: "#fff", overflow: "hidden" }}>
      <ChartBox left={LEFT_BOX.left} width={LEFT_BOX.width} row={0} make={makeA} />
      <ChartBox left={LEFT_BOX.left} width={LEFT_BOX.width} row={1} make={makeC} />
      <ChartBox left={LEFT_BOX.left} width={LEFT_BOX.width} row={2} make={makeE} />
      <ChartBox left={RIGHT_BOX.left} width={RIGHT_BOX.width} row={0} make={makeB} />
      <ChartBox left={RIGHT_BOX.left} width={RIGHT_BOX.width} row={1} make={makeD} />
      <ChartBox left={RIGHT_BOX.left} width={RIGHT_BOX.width} row={2} make={makeF} />
    </div>
  )
}
